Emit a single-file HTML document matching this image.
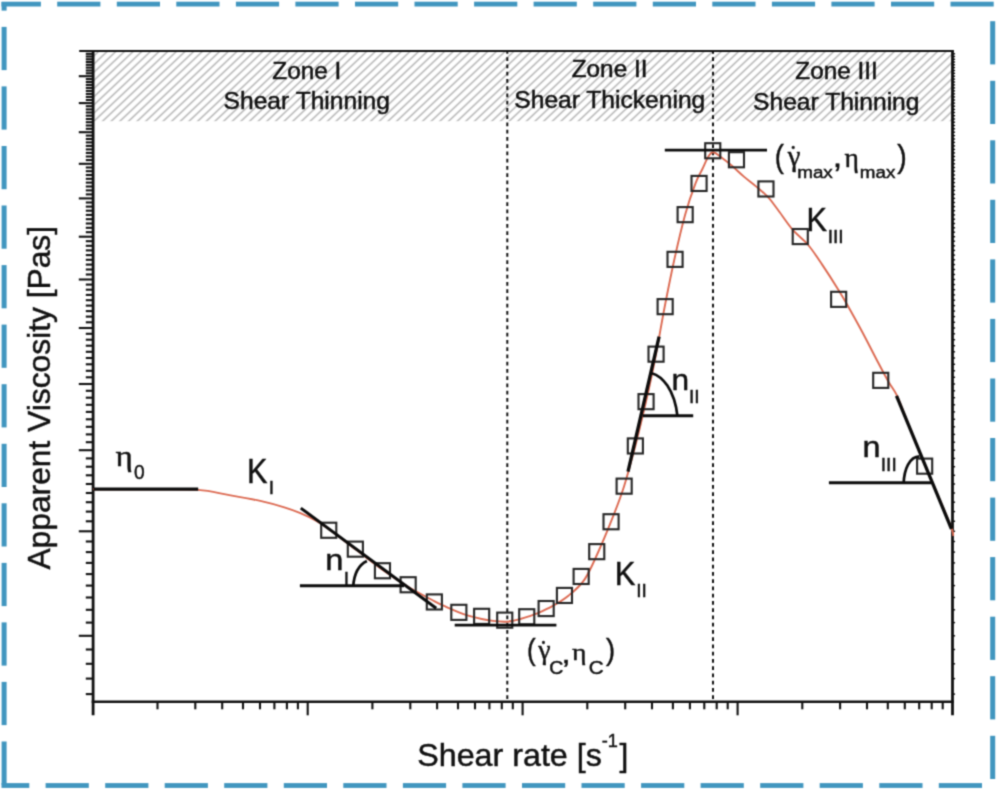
<!DOCTYPE html>
<html><head><meta charset="utf-8"><title>Apparent viscosity vs shear rate</title>
<style>html,body{margin:0;padding:0;background:#fff;}svg{display:block}</style></head>
<body><svg width="997" height="790" viewBox="0 0 997 790">
<filter id="soft" x="0" y="0" width="997" height="790" filterUnits="userSpaceOnUse" color-interpolation-filters="sRGB"><feConvolveMatrix order="3" kernelMatrix="0.0361 0.1178 0.0361 0.1178 0.3844 0.1178 0.0361 0.1178 0.0361" edgeMode="duplicate" preserveAlpha="false"/></filter>
<g filter="url(#soft)">
<rect width="997" height="790" fill="#fff"/>
<rect x="1.5" y="1.7" width="39.4" height="4.8" fill="#4196bf"/>
<rect x="57.2" y="1.7" width="43.2" height="4.8" fill="#4196bf"/>
<rect x="116.8" y="1.7" width="43.2" height="4.8" fill="#4196bf"/>
<rect x="176.3" y="1.7" width="43.2" height="4.8" fill="#4196bf"/>
<rect x="235.9" y="1.7" width="43.2" height="4.8" fill="#4196bf"/>
<rect x="295.4" y="1.7" width="43.2" height="4.8" fill="#4196bf"/>
<rect x="355.0" y="1.7" width="43.2" height="4.8" fill="#4196bf"/>
<rect x="414.5" y="1.7" width="43.2" height="4.8" fill="#4196bf"/>
<rect x="474.1" y="1.7" width="43.2" height="4.8" fill="#4196bf"/>
<rect x="533.6" y="1.7" width="43.2" height="4.8" fill="#4196bf"/>
<rect x="593.2" y="1.7" width="43.2" height="4.8" fill="#4196bf"/>
<rect x="652.8" y="1.7" width="43.2" height="4.8" fill="#4196bf"/>
<rect x="712.3" y="1.7" width="43.2" height="4.8" fill="#4196bf"/>
<rect x="771.9" y="1.7" width="43.2" height="4.8" fill="#4196bf"/>
<rect x="831.4" y="1.7" width="43.2" height="4.8" fill="#4196bf"/>
<rect x="891.0" y="1.7" width="43.2" height="4.8" fill="#4196bf"/>
<rect x="950.5" y="1.7" width="43.2" height="4.8" fill="#4196bf"/>
<rect x="1.5" y="783.1" width="27.8" height="4.8" fill="#4196bf"/>
<rect x="45.6" y="783.1" width="43.2" height="4.8" fill="#4196bf"/>
<rect x="105.2" y="783.1" width="43.2" height="4.8" fill="#4196bf"/>
<rect x="164.7" y="783.1" width="43.2" height="4.8" fill="#4196bf"/>
<rect x="224.2" y="783.1" width="43.2" height="4.8" fill="#4196bf"/>
<rect x="283.8" y="783.1" width="43.2" height="4.8" fill="#4196bf"/>
<rect x="343.3" y="783.1" width="43.2" height="4.8" fill="#4196bf"/>
<rect x="402.9" y="783.1" width="43.2" height="4.8" fill="#4196bf"/>
<rect x="462.4" y="783.1" width="43.2" height="4.8" fill="#4196bf"/>
<rect x="522.0" y="783.1" width="43.2" height="4.8" fill="#4196bf"/>
<rect x="581.5" y="783.1" width="43.2" height="4.8" fill="#4196bf"/>
<rect x="641.1" y="783.1" width="43.2" height="4.8" fill="#4196bf"/>
<rect x="700.6" y="783.1" width="43.2" height="4.8" fill="#4196bf"/>
<rect x="760.2" y="783.1" width="43.2" height="4.8" fill="#4196bf"/>
<rect x="819.7" y="783.1" width="43.2" height="4.8" fill="#4196bf"/>
<rect x="879.3" y="783.1" width="43.2" height="4.8" fill="#4196bf"/>
<rect x="938.8" y="783.1" width="43.2" height="4.8" fill="#4196bf"/>
<rect x="1.6" y="2.0" width="5.0" height="8.6" fill="#4196bf"/>
<rect x="1.6" y="26.9" width="5.0" height="43.2" fill="#4196bf"/>
<rect x="1.6" y="86.4" width="5.0" height="43.2" fill="#4196bf"/>
<rect x="1.6" y="146.0" width="5.0" height="43.2" fill="#4196bf"/>
<rect x="1.6" y="205.5" width="5.0" height="43.2" fill="#4196bf"/>
<rect x="1.6" y="265.1" width="5.0" height="43.2" fill="#4196bf"/>
<rect x="1.6" y="324.6" width="5.0" height="43.2" fill="#4196bf"/>
<rect x="1.6" y="384.2" width="5.0" height="43.2" fill="#4196bf"/>
<rect x="1.6" y="443.8" width="5.0" height="43.2" fill="#4196bf"/>
<rect x="1.6" y="503.3" width="5.0" height="43.2" fill="#4196bf"/>
<rect x="1.6" y="562.9" width="5.0" height="43.2" fill="#4196bf"/>
<rect x="1.6" y="622.4" width="5.0" height="43.2" fill="#4196bf"/>
<rect x="1.6" y="681.9" width="5.0" height="43.2" fill="#4196bf"/>
<rect x="1.6" y="741.5" width="5.0" height="43.2" fill="#4196bf"/>
<rect x="990.2" y="21.2" width="5.0" height="43.2" fill="#4196bf"/>
<rect x="990.2" y="80.8" width="5.0" height="43.2" fill="#4196bf"/>
<rect x="990.2" y="140.3" width="5.0" height="43.2" fill="#4196bf"/>
<rect x="990.2" y="199.8" width="5.0" height="43.2" fill="#4196bf"/>
<rect x="990.2" y="259.4" width="5.0" height="43.2" fill="#4196bf"/>
<rect x="990.2" y="318.9" width="5.0" height="43.2" fill="#4196bf"/>
<rect x="990.2" y="378.5" width="5.0" height="43.2" fill="#4196bf"/>
<rect x="990.2" y="438.0" width="5.0" height="43.2" fill="#4196bf"/>
<rect x="990.2" y="497.6" width="5.0" height="43.2" fill="#4196bf"/>
<rect x="990.2" y="557.1" width="5.0" height="43.2" fill="#4196bf"/>
<rect x="990.2" y="616.7" width="5.0" height="43.2" fill="#4196bf"/>
<rect x="990.2" y="676.2" width="5.0" height="43.2" fill="#4196bf"/>
<rect x="990.2" y="735.8" width="5.0" height="43.2" fill="#4196bf"/>
<linearGradient id="hg" gradientUnits="userSpaceOnUse" x1="100.560" y1="119.041" x2="104.640" y2="123.359" spreadMethod="repeat"><stop offset="0" stop-color="rgb(255,255,255)"/><stop offset="0.2" stop-color="rgb(255,255,255)"/><stop offset="0.29" stop-color="rgb(246,246,246)"/><stop offset="0.37" stop-color="rgb(222,222,222)"/><stop offset="0.44" stop-color="rgb(195,195,195)"/><stop offset="0.5" stop-color="rgb(182,182,182)"/><stop offset="0.56" stop-color="rgb(195,195,195)"/><stop offset="0.63" stop-color="rgb(222,222,222)"/><stop offset="0.71" stop-color="rgb(246,246,246)"/><stop offset="0.8" stop-color="rgb(255,255,255)"/><stop offset="1" stop-color="rgb(255,255,255)"/></linearGradient>
<rect x="92.8" y="51.0" width="859.7" height="70.2" fill="url(#hg)"/>
<line x1="507.3" y1="52.0" x2="507.3" y2="701.8" stroke="#111" stroke-width="2" stroke-dasharray="3.7 3.55" stroke-dashoffset="2"/>
<line x1="713.0" y1="52.0" x2="713.0" y2="701.8" stroke="#111" stroke-width="2" stroke-dasharray="3.7 3.55" stroke-dashoffset="2"/>
<g stroke="#111" stroke-width="2.2" fill="none">
<line x1="93.1" y1="50.0" x2="93.1" y2="715.3" stroke-width="2.8"/>
<line x1="91.7" y1="701.8" x2="953.9" y2="701.8" stroke-width="2.6"/>
<line x1="79.2" y1="50.9" x2="953.9" y2="50.9" stroke-width="2.0"/>
<line x1="952.5" y1="51.0" x2="952.5" y2="715.3" stroke-width="2.8"/>
</g>
<g stroke="#111" stroke-width="2.1">
<line x1="78.8" y1="635.8" x2="92.8" y2="635.8"/>
<line x1="85.8" y1="622.6" x2="92.8" y2="622.6"/>
<line x1="85.8" y1="609.8" x2="92.8" y2="609.8"/>
<line x1="85.8" y1="597.5" x2="92.8" y2="597.5"/>
<line x1="85.8" y1="585.6" x2="92.8" y2="585.6"/>
<line x1="85.8" y1="574.1" x2="92.8" y2="574.1"/>
<line x1="85.8" y1="562.9" x2="92.8" y2="562.9"/>
<line x1="85.8" y1="552.1" x2="92.8" y2="552.1"/>
<line x1="85.8" y1="541.5" x2="92.8" y2="541.5"/>
<line x1="78.8" y1="531.3" x2="92.8" y2="531.3"/>
<line x1="85.8" y1="521.3" x2="92.8" y2="521.3"/>
<line x1="85.8" y1="511.6" x2="92.8" y2="511.6"/>
<line x1="85.8" y1="502.2" x2="92.8" y2="502.2"/>
<line x1="85.8" y1="493.0" x2="92.8" y2="493.0"/>
<line x1="85.8" y1="484.0" x2="92.8" y2="484.0"/>
<line x1="85.8" y1="475.3" x2="92.8" y2="475.3"/>
<line x1="85.8" y1="466.7" x2="92.8" y2="466.7"/>
<line x1="85.8" y1="458.4" x2="92.8" y2="458.4"/>
<line x1="78.8" y1="450.2" x2="92.8" y2="450.2"/>
<line x1="85.8" y1="442.2" x2="92.8" y2="442.2"/>
<line x1="85.8" y1="434.4" x2="92.8" y2="434.4"/>
<line x1="85.8" y1="426.8" x2="92.8" y2="426.8"/>
<line x1="85.8" y1="419.3" x2="92.8" y2="419.3"/>
<line x1="85.8" y1="411.9" x2="92.8" y2="411.9"/>
<line x1="85.8" y1="404.8" x2="92.8" y2="404.8"/>
<line x1="85.8" y1="397.7" x2="92.8" y2="397.7"/>
<line x1="85.8" y1="390.8" x2="92.8" y2="390.8"/>
<line x1="78.8" y1="384.0" x2="92.8" y2="384.0"/>
<line x1="85.8" y1="377.3" x2="92.8" y2="377.3"/>
<line x1="85.8" y1="370.8" x2="92.8" y2="370.8"/>
<line x1="85.8" y1="364.3" x2="92.8" y2="364.3"/>
<line x1="85.8" y1="358.0" x2="92.8" y2="358.0"/>
<line x1="85.8" y1="351.8" x2="92.8" y2="351.8"/>
<line x1="85.8" y1="345.7" x2="92.8" y2="345.7"/>
<line x1="85.8" y1="339.7" x2="92.8" y2="339.7"/>
<line x1="85.8" y1="333.8" x2="92.8" y2="333.8"/>
<line x1="78.8" y1="328.0" x2="92.8" y2="328.0"/>
<line x1="85.8" y1="322.3" x2="92.8" y2="322.3"/>
<line x1="85.8" y1="316.6" x2="92.8" y2="316.6"/>
<line x1="85.8" y1="311.1" x2="92.8" y2="311.1"/>
<line x1="85.8" y1="305.6" x2="92.8" y2="305.6"/>
<line x1="85.8" y1="300.2" x2="92.8" y2="300.2"/>
<line x1="85.8" y1="294.9" x2="92.8" y2="294.9"/>
<line x1="85.8" y1="289.7" x2="92.8" y2="289.7"/>
<line x1="85.8" y1="284.6" x2="92.8" y2="284.6"/>
<line x1="78.8" y1="279.5" x2="92.8" y2="279.5"/>
<line x1="85.8" y1="274.5" x2="92.8" y2="274.5"/>
<line x1="85.8" y1="269.5" x2="92.8" y2="269.5"/>
<line x1="85.8" y1="264.6" x2="92.8" y2="264.6"/>
<line x1="85.8" y1="259.8" x2="92.8" y2="259.8"/>
<line x1="85.8" y1="255.1" x2="92.8" y2="255.1"/>
<line x1="85.8" y1="250.4" x2="92.8" y2="250.4"/>
<line x1="85.8" y1="245.8" x2="92.8" y2="245.8"/>
<line x1="85.8" y1="241.2" x2="92.8" y2="241.2"/>
<line x1="78.8" y1="236.7" x2="92.8" y2="236.7"/>
<line x1="85.8" y1="232.2" x2="92.8" y2="232.2"/>
<line x1="85.8" y1="227.8" x2="92.8" y2="227.8"/>
<line x1="85.8" y1="223.5" x2="92.8" y2="223.5"/>
<line x1="85.8" y1="219.2" x2="92.8" y2="219.2"/>
<line x1="85.8" y1="214.9" x2="92.8" y2="214.9"/>
<line x1="85.8" y1="210.7" x2="92.8" y2="210.7"/>
<line x1="85.8" y1="206.6" x2="92.8" y2="206.6"/>
<line x1="85.8" y1="202.5" x2="92.8" y2="202.5"/>
<line x1="78.8" y1="198.4" x2="92.8" y2="198.4"/>
<line x1="85.8" y1="194.4" x2="92.8" y2="194.4"/>
<line x1="85.8" y1="190.4" x2="92.8" y2="190.4"/>
<line x1="85.8" y1="186.5" x2="92.8" y2="186.5"/>
<line x1="85.8" y1="182.6" x2="92.8" y2="182.6"/>
<line x1="85.8" y1="178.8" x2="92.8" y2="178.8"/>
<line x1="85.8" y1="175.0" x2="92.8" y2="175.0"/>
<line x1="85.8" y1="171.2" x2="92.8" y2="171.2"/>
<line x1="85.8" y1="167.5" x2="92.8" y2="167.5"/>
<line x1="78.8" y1="163.8" x2="92.8" y2="163.8"/>
<line x1="85.8" y1="160.1" x2="92.8" y2="160.1"/>
<line x1="85.8" y1="156.5" x2="92.8" y2="156.5"/>
<line x1="85.8" y1="152.9" x2="92.8" y2="152.9"/>
<line x1="85.8" y1="149.4" x2="92.8" y2="149.4"/>
<line x1="85.8" y1="145.9" x2="92.8" y2="145.9"/>
<line x1="85.8" y1="142.4" x2="92.8" y2="142.4"/>
<line x1="85.8" y1="139.0" x2="92.8" y2="139.0"/>
<line x1="85.8" y1="135.6" x2="92.8" y2="135.6"/>
<line x1="78.8" y1="132.2" x2="92.8" y2="132.2"/>
<line x1="85.8" y1="128.8" x2="92.8" y2="128.8"/>
<line x1="85.8" y1="125.5" x2="92.8" y2="125.5"/>
<line x1="85.8" y1="122.2" x2="92.8" y2="122.2"/>
<line x1="85.8" y1="119.0" x2="92.8" y2="119.0"/>
<line x1="85.8" y1="115.7" x2="92.8" y2="115.7"/>
<line x1="85.8" y1="112.5" x2="92.8" y2="112.5"/>
<line x1="85.8" y1="109.4" x2="92.8" y2="109.4"/>
<line x1="85.8" y1="106.2" x2="92.8" y2="106.2"/>
<line x1="78.8" y1="103.1" x2="92.8" y2="103.1"/>
<line x1="85.8" y1="100.0" x2="92.8" y2="100.0"/>
<line x1="85.8" y1="96.9" x2="92.8" y2="96.9"/>
<line x1="85.8" y1="93.9" x2="92.8" y2="93.9"/>
<line x1="85.8" y1="90.9" x2="92.8" y2="90.9"/>
<line x1="85.8" y1="87.9" x2="92.8" y2="87.9"/>
<line x1="85.8" y1="84.9" x2="92.8" y2="84.9"/>
<line x1="85.8" y1="82.0" x2="92.8" y2="82.0"/>
<line x1="85.8" y1="79.1" x2="92.8" y2="79.1"/>
<line x1="78.8" y1="76.2" x2="92.8" y2="76.2"/>
<line x1="85.8" y1="73.3" x2="92.8" y2="73.3"/>
<line x1="85.8" y1="70.5" x2="92.8" y2="70.5"/>
<line x1="85.8" y1="67.6" x2="92.8" y2="67.6"/>
<line x1="85.8" y1="64.8" x2="92.8" y2="64.8"/>
<line x1="85.8" y1="62.0" x2="92.8" y2="62.0"/>
<line x1="85.8" y1="59.3" x2="92.8" y2="59.3"/>
<line x1="85.8" y1="56.5" x2="92.8" y2="56.5"/>
<line x1="85.8" y1="53.8" x2="92.8" y2="53.8"/>
<line x1="85.8" y1="649.5" x2="92.8" y2="649.5"/>
<line x1="85.8" y1="663.8" x2="92.8" y2="663.8"/>
<line x1="85.8" y1="678.6" x2="92.8" y2="678.6"/>
<line x1="85.8" y1="694.1" x2="92.8" y2="694.1"/>
<line x1="952.5" y1="694.1" x2="955.1" y2="694.1" stroke-width="1.4"/>
<line x1="952.5" y1="678.6" x2="955.1" y2="678.6" stroke-width="1.4"/>
<line x1="952.5" y1="663.8" x2="955.1" y2="663.8" stroke-width="1.4"/>
<line x1="952.5" y1="649.5" x2="955.1" y2="649.5" stroke-width="1.4"/>
<line x1="952.5" y1="635.8" x2="955.1" y2="635.8" stroke-width="1.4"/>
<line x1="952.5" y1="622.6" x2="955.1" y2="622.6" stroke-width="1.4"/>
<line x1="952.5" y1="609.8" x2="955.1" y2="609.8" stroke-width="1.4"/>
<line x1="952.5" y1="597.5" x2="955.1" y2="597.5" stroke-width="1.4"/>
<line x1="952.5" y1="585.6" x2="955.1" y2="585.6" stroke-width="1.4"/>
<line x1="952.5" y1="574.1" x2="955.1" y2="574.1" stroke-width="1.4"/>
<line x1="952.5" y1="562.9" x2="955.1" y2="562.9" stroke-width="1.4"/>
<line x1="952.5" y1="552.1" x2="955.1" y2="552.1" stroke-width="1.4"/>
<line x1="952.5" y1="541.5" x2="955.1" y2="541.5" stroke-width="1.4"/>
<line x1="952.5" y1="531.3" x2="955.1" y2="531.3" stroke-width="1.4"/>
<line x1="952.5" y1="521.3" x2="955.1" y2="521.3" stroke-width="1.4"/>
<line x1="952.5" y1="511.6" x2="955.1" y2="511.6" stroke-width="1.4"/>
<line x1="952.5" y1="502.2" x2="955.1" y2="502.2" stroke-width="1.4"/>
<line x1="952.5" y1="493.0" x2="955.1" y2="493.0" stroke-width="1.4"/>
<line x1="952.5" y1="484.0" x2="955.1" y2="484.0" stroke-width="1.4"/>
<line x1="952.5" y1="475.3" x2="955.1" y2="475.3" stroke-width="1.4"/>
<line x1="952.5" y1="466.7" x2="955.1" y2="466.7" stroke-width="1.4"/>
<line x1="952.5" y1="458.4" x2="955.1" y2="458.4" stroke-width="1.4"/>
<line x1="952.5" y1="450.2" x2="955.1" y2="450.2" stroke-width="1.4"/>
<line x1="952.5" y1="442.2" x2="955.1" y2="442.2" stroke-width="1.4"/>
<line x1="952.5" y1="434.4" x2="955.1" y2="434.4" stroke-width="1.4"/>
<line x1="952.5" y1="426.8" x2="955.1" y2="426.8" stroke-width="1.4"/>
<line x1="952.5" y1="419.3" x2="955.1" y2="419.3" stroke-width="1.4"/>
<line x1="952.5" y1="411.9" x2="955.1" y2="411.9" stroke-width="1.4"/>
<line x1="952.5" y1="404.8" x2="955.1" y2="404.8" stroke-width="1.4"/>
<line x1="952.5" y1="397.7" x2="955.1" y2="397.7" stroke-width="1.4"/>
<line x1="952.5" y1="390.8" x2="955.1" y2="390.8" stroke-width="1.4"/>
<line x1="952.5" y1="384.0" x2="955.1" y2="384.0" stroke-width="1.4"/>
<line x1="952.5" y1="377.3" x2="955.1" y2="377.3" stroke-width="1.4"/>
<line x1="952.5" y1="370.8" x2="955.1" y2="370.8" stroke-width="1.4"/>
<line x1="952.5" y1="364.3" x2="955.1" y2="364.3" stroke-width="1.4"/>
<line x1="952.5" y1="358.0" x2="955.1" y2="358.0" stroke-width="1.4"/>
<line x1="952.5" y1="351.8" x2="955.1" y2="351.8" stroke-width="1.4"/>
<line x1="952.5" y1="345.7" x2="955.1" y2="345.7" stroke-width="1.4"/>
<line x1="952.5" y1="339.7" x2="955.1" y2="339.7" stroke-width="1.4"/>
<line x1="952.5" y1="333.8" x2="955.1" y2="333.8" stroke-width="1.4"/>
<line x1="952.5" y1="328.0" x2="955.1" y2="328.0" stroke-width="1.4"/>
<line x1="952.5" y1="322.3" x2="955.1" y2="322.3" stroke-width="1.4"/>
<line x1="952.5" y1="316.6" x2="955.1" y2="316.6" stroke-width="1.4"/>
<line x1="952.5" y1="311.1" x2="955.1" y2="311.1" stroke-width="1.4"/>
<line x1="952.5" y1="305.6" x2="955.1" y2="305.6" stroke-width="1.4"/>
<line x1="952.5" y1="300.2" x2="955.1" y2="300.2" stroke-width="1.4"/>
<line x1="952.5" y1="294.9" x2="955.1" y2="294.9" stroke-width="1.4"/>
<line x1="952.5" y1="289.7" x2="955.1" y2="289.7" stroke-width="1.4"/>
<line x1="952.5" y1="284.6" x2="955.1" y2="284.6" stroke-width="1.4"/>
<line x1="952.5" y1="279.5" x2="955.1" y2="279.5" stroke-width="1.4"/>
<line x1="952.5" y1="274.5" x2="955.1" y2="274.5" stroke-width="1.4"/>
<line x1="952.5" y1="269.5" x2="955.1" y2="269.5" stroke-width="1.4"/>
<line x1="952.5" y1="264.6" x2="955.1" y2="264.6" stroke-width="1.4"/>
<line x1="952.5" y1="259.8" x2="955.1" y2="259.8" stroke-width="1.4"/>
<line x1="952.5" y1="255.1" x2="955.1" y2="255.1" stroke-width="1.4"/>
<line x1="952.5" y1="250.4" x2="955.1" y2="250.4" stroke-width="1.4"/>
<line x1="952.5" y1="245.8" x2="955.1" y2="245.8" stroke-width="1.4"/>
<line x1="952.5" y1="241.2" x2="955.1" y2="241.2" stroke-width="1.4"/>
<line x1="952.5" y1="236.7" x2="955.1" y2="236.7" stroke-width="1.4"/>
<line x1="952.5" y1="232.2" x2="955.1" y2="232.2" stroke-width="1.4"/>
<line x1="952.5" y1="227.8" x2="955.1" y2="227.8" stroke-width="1.4"/>
<line x1="952.5" y1="223.5" x2="955.1" y2="223.5" stroke-width="1.4"/>
<line x1="952.5" y1="219.2" x2="955.1" y2="219.2" stroke-width="1.4"/>
<line x1="952.5" y1="214.9" x2="955.1" y2="214.9" stroke-width="1.4"/>
<line x1="952.5" y1="210.7" x2="955.1" y2="210.7" stroke-width="1.4"/>
<line x1="952.5" y1="206.6" x2="955.1" y2="206.6" stroke-width="1.4"/>
<line x1="952.5" y1="202.5" x2="955.1" y2="202.5" stroke-width="1.4"/>
<line x1="952.5" y1="198.4" x2="955.1" y2="198.4" stroke-width="1.4"/>
<line x1="952.5" y1="194.4" x2="955.1" y2="194.4" stroke-width="1.4"/>
<line x1="952.5" y1="190.4" x2="955.1" y2="190.4" stroke-width="1.4"/>
<line x1="952.5" y1="186.5" x2="955.1" y2="186.5" stroke-width="1.4"/>
<line x1="952.5" y1="182.6" x2="955.1" y2="182.6" stroke-width="1.4"/>
<line x1="952.5" y1="178.8" x2="955.1" y2="178.8" stroke-width="1.4"/>
<line x1="952.5" y1="175.0" x2="955.1" y2="175.0" stroke-width="1.4"/>
<line x1="952.5" y1="171.2" x2="955.1" y2="171.2" stroke-width="1.4"/>
<line x1="952.5" y1="167.5" x2="955.1" y2="167.5" stroke-width="1.4"/>
<line x1="952.5" y1="163.8" x2="955.1" y2="163.8" stroke-width="1.4"/>
<line x1="952.5" y1="160.1" x2="955.1" y2="160.1" stroke-width="1.4"/>
<line x1="952.5" y1="156.5" x2="955.1" y2="156.5" stroke-width="1.4"/>
<line x1="952.5" y1="152.9" x2="955.1" y2="152.9" stroke-width="1.4"/>
<line x1="952.5" y1="149.4" x2="955.1" y2="149.4" stroke-width="1.4"/>
<line x1="952.5" y1="145.9" x2="955.1" y2="145.9" stroke-width="1.4"/>
<line x1="952.5" y1="142.4" x2="955.1" y2="142.4" stroke-width="1.4"/>
<line x1="952.5" y1="139.0" x2="955.1" y2="139.0" stroke-width="1.4"/>
<line x1="952.5" y1="135.6" x2="955.1" y2="135.6" stroke-width="1.4"/>
<line x1="952.5" y1="132.2" x2="955.1" y2="132.2" stroke-width="1.4"/>
<line x1="952.5" y1="128.8" x2="955.1" y2="128.8" stroke-width="1.4"/>
<line x1="952.5" y1="125.5" x2="955.1" y2="125.5" stroke-width="1.4"/>
<line x1="952.5" y1="122.2" x2="955.1" y2="122.2" stroke-width="1.4"/>
<line x1="952.5" y1="119.0" x2="955.1" y2="119.0" stroke-width="1.4"/>
<line x1="952.5" y1="115.7" x2="955.1" y2="115.7" stroke-width="1.4"/>
<line x1="952.5" y1="112.5" x2="955.1" y2="112.5" stroke-width="1.4"/>
<line x1="952.5" y1="109.4" x2="955.1" y2="109.4" stroke-width="1.4"/>
<line x1="952.5" y1="106.2" x2="955.1" y2="106.2" stroke-width="1.4"/>
<line x1="952.5" y1="103.1" x2="955.1" y2="103.1" stroke-width="1.4"/>
<line x1="952.5" y1="100.0" x2="955.1" y2="100.0" stroke-width="1.4"/>
<line x1="952.5" y1="96.9" x2="955.1" y2="96.9" stroke-width="1.4"/>
<line x1="952.5" y1="93.9" x2="955.1" y2="93.9" stroke-width="1.4"/>
<line x1="952.5" y1="90.9" x2="955.1" y2="90.9" stroke-width="1.4"/>
<line x1="952.5" y1="87.9" x2="955.1" y2="87.9" stroke-width="1.4"/>
<line x1="952.5" y1="84.9" x2="955.1" y2="84.9" stroke-width="1.4"/>
<line x1="952.5" y1="82.0" x2="955.1" y2="82.0" stroke-width="1.4"/>
<line x1="952.5" y1="79.1" x2="955.1" y2="79.1" stroke-width="1.4"/>
<line x1="952.5" y1="76.2" x2="955.1" y2="76.2" stroke-width="1.4"/>
<line x1="952.5" y1="73.3" x2="955.1" y2="73.3" stroke-width="1.4"/>
<line x1="952.5" y1="70.5" x2="955.1" y2="70.5" stroke-width="1.4"/>
<line x1="952.5" y1="67.6" x2="955.1" y2="67.6" stroke-width="1.4"/>
<line x1="952.5" y1="64.8" x2="955.1" y2="64.8" stroke-width="1.4"/>
<line x1="952.5" y1="62.0" x2="955.1" y2="62.0" stroke-width="1.4"/>
<line x1="952.5" y1="59.3" x2="955.1" y2="59.3" stroke-width="1.4"/>
<line x1="952.5" y1="56.5" x2="955.1" y2="56.5" stroke-width="1.4"/>
<line x1="952.5" y1="53.8" x2="955.1" y2="53.8" stroke-width="1.4"/>
<line x1="157.5" y1="701.8" x2="157.5" y2="709.3"/>
<line x1="195.3" y1="701.8" x2="195.3" y2="709.3"/>
<line x1="222.2" y1="701.8" x2="222.2" y2="709.3"/>
<line x1="243.0" y1="701.8" x2="243.0" y2="709.3"/>
<line x1="260.0" y1="701.8" x2="260.0" y2="709.3"/>
<line x1="274.4" y1="701.8" x2="274.4" y2="709.3"/>
<line x1="286.9" y1="701.8" x2="286.9" y2="709.3"/>
<line x1="297.9" y1="701.8" x2="297.9" y2="709.3"/>
<line x1="307.7" y1="701.8" x2="307.7" y2="715.3"/>
<line x1="372.4" y1="701.8" x2="372.4" y2="709.3"/>
<line x1="410.3" y1="701.8" x2="410.3" y2="709.3"/>
<line x1="437.1" y1="701.8" x2="437.1" y2="709.3"/>
<line x1="458.0" y1="701.8" x2="458.0" y2="709.3"/>
<line x1="475.0" y1="701.8" x2="475.0" y2="709.3"/>
<line x1="489.4" y1="701.8" x2="489.4" y2="709.3"/>
<line x1="501.8" y1="701.8" x2="501.8" y2="709.3"/>
<line x1="512.8" y1="701.8" x2="512.8" y2="709.3"/>
<line x1="522.6" y1="701.8" x2="522.6" y2="715.3"/>
<line x1="587.3" y1="701.8" x2="587.3" y2="709.3"/>
<line x1="625.2" y1="701.8" x2="625.2" y2="709.3"/>
<line x1="652.0" y1="701.8" x2="652.0" y2="709.3"/>
<line x1="672.9" y1="701.8" x2="672.9" y2="709.3"/>
<line x1="689.9" y1="701.8" x2="689.9" y2="709.3"/>
<line x1="704.3" y1="701.8" x2="704.3" y2="709.3"/>
<line x1="716.7" y1="701.8" x2="716.7" y2="709.3"/>
<line x1="727.7" y1="701.8" x2="727.7" y2="709.3"/>
<line x1="737.6" y1="701.8" x2="737.6" y2="715.3"/>
<line x1="802.3" y1="701.8" x2="802.3" y2="709.3"/>
<line x1="840.1" y1="701.8" x2="840.1" y2="709.3"/>
<line x1="867.0" y1="701.8" x2="867.0" y2="709.3"/>
<line x1="887.8" y1="701.8" x2="887.8" y2="709.3"/>
<line x1="904.8" y1="701.8" x2="904.8" y2="709.3"/>
<line x1="919.2" y1="701.8" x2="919.2" y2="709.3"/>
<line x1="931.7" y1="701.8" x2="931.7" y2="709.3"/>
<line x1="942.7" y1="701.8" x2="942.7" y2="709.3"/>
</g>
<path d="M93.0,489.2 C102.5,489.2 132.5,489.2 150.0,489.3 C167.5,489.4 185.0,489.0 198.0,489.9 C211.0,490.8 217.8,493.1 228.2,494.9 C238.6,496.7 251.0,498.8 260.3,500.9 C269.7,503.0 277.6,505.3 284.3,507.4 C291.0,509.4 295.0,511.0 300.4,513.2 C305.8,515.5 311.6,518.2 316.4,520.9 C321.2,523.6 322.5,524.6 329.0,529.3 C335.5,534.0 346.5,542.5 355.5,549.3 C364.5,556.1 374.0,563.7 382.8,570.0 C391.6,576.3 399.9,581.8 408.5,587.0 C417.1,592.2 428.4,598.0 434.6,601.3 C440.9,604.6 441.9,605.0 446.0,606.8 C450.1,608.6 454.9,610.7 458.9,612.3 C462.9,613.9 466.2,615.1 470.0,616.2 C473.8,617.3 477.9,618.2 481.7,619.0 C485.5,619.8 489.2,620.4 493.0,620.9 C496.8,621.4 501.0,621.7 504.2,621.7 C507.4,621.7 509.3,621.5 512.0,621.0 C514.7,620.5 517.6,619.7 520.3,619.0 C523.0,618.3 525.3,617.6 528.0,616.7 C530.7,615.8 532.2,615.5 536.3,613.7 C540.4,611.9 547.0,609.1 552.4,606.1 C557.8,603.1 563.0,600.1 568.4,595.7 C573.8,591.3 579.6,586.8 584.5,579.6 C589.4,572.4 593.6,562.1 598.0,552.5 C602.4,542.9 606.6,532.8 611.0,521.7 C615.4,510.7 620.1,498.8 624.1,486.2 C628.1,473.6 631.6,460.1 635.3,446.0 C638.9,431.9 642.5,416.9 646.0,401.6 C649.5,386.3 652.9,370.0 656.0,354.2 C659.1,338.4 661.6,322.5 664.7,306.7 C667.8,290.9 671.0,274.7 674.4,259.3 C677.8,243.9 681.7,227.2 685.2,214.5 C688.7,201.8 692.6,190.9 695.5,183.3 C698.4,175.7 700.3,173.4 702.4,169.0 C704.5,164.6 706.3,159.8 708.1,157.0 C709.9,154.2 710.9,152.3 713.0,152.3 C715.1,152.3 717.6,154.8 720.8,157.1 C724.0,159.4 728.3,162.8 732.2,166.1 C736.1,169.4 740.2,173.5 744.2,176.9 C748.2,180.3 752.3,183.2 756.3,186.6 C760.3,190.0 764.7,193.6 768.3,197.4 C771.9,201.2 773.6,204.1 777.7,209.5 C781.8,214.9 787.8,224.1 792.8,229.9 C797.8,235.7 802.9,238.8 807.8,244.5 C812.7,250.2 817.0,256.9 822.0,264.4 C827.0,271.8 833.9,282.6 838.0,289.2 C842.1,295.8 842.8,296.9 846.8,304.0 C850.8,311.1 856.8,321.8 862.0,331.5 C867.2,341.2 873.6,353.9 878.0,362.3 C882.4,370.7 885.4,376.4 888.6,382.0 C891.8,387.6 894.0,389.4 897.0,395.7 C900.0,402.0 902.1,408.2 906.8,420.0 C911.5,431.8 919.8,452.9 925.3,466.2 C930.8,479.5 935.6,489.6 940.0,500.0 C944.4,510.4 949.5,522.6 951.7,528.6 C953.9,534.6 953.0,534.8 953.2,536.0" fill="none" stroke="#dc6a52" stroke-width="1.9"/>
<g fill="none" stroke="#262626" stroke-width="2.1">
<rect x="321.2" y="522.7" width="15.1" height="15.1"/>
<rect x="347.8" y="541.6" width="15.1" height="15.1"/>
<rect x="374.9" y="563.2" width="15.1" height="15.1"/>
<rect x="400.6" y="577.2" width="15.1" height="15.1"/>
<rect x="426.8" y="594.4" width="15.1" height="15.1"/>
<rect x="451.3" y="604.8" width="15.1" height="15.1"/>
<rect x="474.1" y="608.8" width="15.1" height="15.1"/>
<rect x="497.2" y="612.6" width="15.1" height="15.1"/>
<rect x="519.2" y="609.2" width="15.1" height="15.1"/>
<rect x="538.6" y="601.0" width="15.1" height="15.1"/>
<rect x="556.9" y="587.9" width="15.1" height="15.1"/>
<rect x="573.6" y="568.9" width="15.1" height="15.1"/>
<rect x="589.2" y="544.1" width="15.1" height="15.1"/>
<rect x="603.5" y="514.2" width="15.1" height="15.1"/>
<rect x="616.6" y="478.6" width="15.1" height="15.1"/>
<rect x="627.8" y="438.4" width="15.1" height="15.1"/>
<rect x="638.5" y="394.1" width="15.1" height="15.1"/>
<rect x="648.5" y="346.6" width="15.1" height="15.1"/>
<rect x="657.6" y="299.1" width="15.1" height="15.1"/>
<rect x="667.5" y="251.8" width="15.1" height="15.1"/>
<rect x="677.6" y="207.1" width="15.1" height="15.1"/>
<rect x="691.5" y="175.9" width="15.1" height="15.1"/>
<rect x="705.2" y="143.2" width="15.1" height="15.1"/>
<rect x="728.9" y="152.2" width="15.1" height="15.1"/>
<rect x="758.4" y="181.4" width="15.1" height="15.1"/>
<rect x="792.7" y="229.0" width="15.1" height="15.1"/>
<rect x="831.1" y="291.8" width="15.1" height="15.1"/>
<rect x="873.2" y="372.8" width="15.1" height="15.1"/>
<rect x="917.1" y="458.6" width="15.1" height="15.1"/>
</g>
<g stroke="#0c0c0c" stroke-width="3.1" fill="none" stroke-linecap="butt">
<line x1="93.5" y1="489.1" x2="198.2" y2="489.1" stroke-width="3.1"/>
<line x1="300.8" y1="508.1" x2="436.2" y2="608.2" stroke-width="3.0"/>
<line x1="299.9" y1="585.7" x2="404" y2="585.7"/>
<path d="M353.2,586.5 Q354.5,567 366.9,561.0" stroke-width="2.7"/>
<line x1="454.7" y1="625.1" x2="556.4" y2="625.1" stroke-width="2.7"/>
<line x1="628.0" y1="471.6" x2="659.1" y2="336.6" stroke-width="3.3"/>
<line x1="642.5" y1="415.8" x2="693.2" y2="415.8"/>
<path d="M651.7,373.2 C662,376 674.5,389 677.5,416.5" stroke-width="2.7"/>
<line x1="664.8" y1="150.2" x2="767.0" y2="150.2" stroke-width="2.8"/>
<line x1="896.5" y1="395.9" x2="951.5" y2="529.0" stroke-width="3.3"/>
<line x1="828.9" y1="482.7" x2="931.6" y2="482.7"/>
<path d="M903.6,483.5 C904.2,469 909.5,456.6 919.5,456.3" stroke-width="2.7"/>
</g>
<text x="306.8" y="78.6" font-size="24.3" font-family="'Liberation Sans',sans-serif" fill="#111" stroke="#111" stroke-width="0.5" text-anchor="middle">Zone I</text>
<text x="306.8" y="109.4" font-size="24.6" font-family="'Liberation Sans',sans-serif" fill="#111" stroke="#111" stroke-width="0.5" text-anchor="middle">Shear Thinning</text>
<text x="609.6" y="76.6" font-size="24.3" font-family="'Liberation Sans',sans-serif" fill="#111" stroke="#111" stroke-width="0.5" text-anchor="middle">Zone II</text>
<text x="609.8" y="108.3" font-size="24.6" font-family="'Liberation Sans',sans-serif" fill="#111" stroke="#111" stroke-width="0.5" text-anchor="middle">Shear Thickening</text>
<text x="836.5" y="78.6" font-size="24.3" font-family="'Liberation Sans',sans-serif" fill="#111" stroke="#111" stroke-width="0.5" text-anchor="middle">Zone III</text>
<text x="836.3" y="109.8" font-size="24.6" font-family="'Liberation Sans',sans-serif" fill="#111" stroke="#111" stroke-width="0.5" text-anchor="middle">Shear Thinning</text>
<text transform="translate(417.2,765.5) scale(1.015,1)" font-size="31.8" font-family="'Liberation Sans',sans-serif" fill="#111" stroke="#111" stroke-width="0.45">Shear rate [s</text>
<text x="601.8" y="747.2" font-size="18.2" font-family="'Liberation Sans',sans-serif" fill="#111" stroke="#111" stroke-width="0.45">-1</text>
<text x="619.4" y="765.5" font-size="31.8" font-family="'Liberation Sans',sans-serif" fill="#111" stroke="#111" stroke-width="0.45">]</text>
<text transform="translate(50.1,569.6) rotate(-90) scale(1.025,1)" font-size="31.0" font-family="'Liberation Sans',sans-serif" fill="#111" stroke="#111" stroke-width="0.45">Apparent Viscosity [Pas]</text>
<text transform="translate(246.89,483.05) scale(0.894,1)" font-size="34.35" font-family="'Liberation Sans',sans-serif" fill="#111" stroke="#111" stroke-width="0.45">K</text>
<text transform="translate(268.71,494.47) scale(1.000,1)" font-size="19.20" font-family="'Liberation Sans',sans-serif" fill="#111" stroke="#111" stroke-width="0.45">I</text>
<text transform="translate(614.77,584.75) scale(0.932,1)" font-size="33.33" font-family="'Liberation Sans',sans-serif" fill="#111" stroke="#111" stroke-width="0.45">K</text>
<text transform="translate(636.22,596.77) scale(1.000,1)" font-size="19.20" font-family="'Liberation Sans',sans-serif" fill="#111" stroke="#111" stroke-width="0.45">II</text>
<text transform="translate(806.59,231.05) scale(0.946,1)" font-size="32.46" font-family="'Liberation Sans',sans-serif" fill="#111" stroke="#111" stroke-width="0.45">K</text>
<text transform="translate(827.68,243.47) scale(1.000,1)" font-size="19.20" font-family="'Liberation Sans',sans-serif" fill="#111" stroke="#111" stroke-width="0.45">III</text>
<text transform="translate(325.17,570.45) scale(1.094,1)" font-size="29.81" font-family="'Liberation Sans',sans-serif" fill="#111" stroke="#111" stroke-width="0.45">n</text>
<text transform="translate(343.81,585.37) scale(1.000,1)" font-size="19.20" font-family="'Liberation Sans',sans-serif" fill="#111" stroke="#111" stroke-width="0.45">I</text>
<text transform="translate(671.43,390.45) scale(1.062,1)" font-size="29.81" font-family="'Liberation Sans',sans-serif" fill="#111" stroke="#111" stroke-width="0.45">n</text>
<text transform="translate(688.97,402.62) scale(1.000,1)" font-size="19.20" font-family="'Liberation Sans',sans-serif" fill="#111" stroke="#111" stroke-width="0.45">II</text>
<text transform="translate(862.38,456.55) scale(1.128,1)" font-size="28.70" font-family="'Liberation Sans',sans-serif" fill="#111" stroke="#111" stroke-width="0.45">n</text>
<text transform="translate(880.78,471.42) scale(1.000,1)" font-size="19.20" font-family="'Liberation Sans',sans-serif" fill="#111" stroke="#111" stroke-width="0.45">III</text>
<text transform="translate(115.59,466.45) scale(1.104,1)" font-size="30.00" font-family="'Liberation Serif',serif" fill="#111" stroke="#111" stroke-width="0.45">η</text>
<text transform="translate(133.88,479.15) scale(0.965,1)" font-size="19.86" font-family="'Liberation Sans',sans-serif" fill="#111" stroke="#111" stroke-width="0.45">0</text>
<text transform="translate(774.71,167.09) scale(0.861,1)" font-size="31.70" font-family="'Liberation Sans',sans-serif" fill="#111" stroke="#111" stroke-width="0.45">(</text>
<text transform="translate(787.65,166.10) scale(1.000,1)" font-size="28.81" font-family="'Liberation Serif',serif" fill="#111" stroke="#111" stroke-width="0.45">γ</text>
<text transform="translate(788.95,163.90) scale(0.926,1)" font-size="27.00" font-family="'Liberation Serif',serif" fill="#111" stroke="#111" stroke-width="0.45">˙</text>
<text transform="translate(797.23,177.88) scale(1.126,1)" font-size="16.73" font-family="'Liberation Sans',sans-serif" fill="#111" stroke="#111" stroke-width="0.45">max</text>
<text transform="translate(832.69,167.20) scale(1.118,1)" font-size="30.42" font-family="'Liberation Sans',sans-serif" fill="#111" stroke="#111" stroke-width="0.45">,</text>
<text transform="translate(844.60,167.21) scale(1.007,1)" font-size="27.35" font-family="'Liberation Serif',serif" fill="#111" stroke="#111" stroke-width="0.45">η</text>
<text transform="translate(859.83,177.88) scale(1.126,1)" font-size="16.73" font-family="'Liberation Sans',sans-serif" fill="#111" stroke="#111" stroke-width="0.45">max</text>
<text transform="translate(897.27,167.09) scale(0.898,1)" font-size="31.70" font-family="'Liberation Sans',sans-serif" fill="#111" stroke="#111" stroke-width="0.45">)</text>
<text transform="translate(526.94,659.56) scale(0.850,1)" font-size="30.43" font-family="'Liberation Sans',sans-serif" fill="#111" stroke="#111" stroke-width="0.45">(</text>
<text transform="translate(538.35,658.91) scale(1.020,1)" font-size="27.31" font-family="'Liberation Serif',serif" fill="#111" stroke="#111" stroke-width="0.45">γ</text>
<text transform="translate(539.15,658.90) scale(0.926,1)" font-size="27.00" font-family="'Liberation Serif',serif" fill="#111" stroke="#111" stroke-width="0.45">˙</text>
<text transform="translate(549.17,673.56) scale(1.019,1)" font-size="19.15" font-family="'Liberation Sans',sans-serif" fill="#111" stroke="#111" stroke-width="0.45">C</text>
<text transform="translate(561.44,663.47) scale(1.150,1)" font-size="28.33" font-family="'Liberation Sans',sans-serif" fill="#111" stroke="#111" stroke-width="0.45">,</text>
<text transform="translate(572.05,659.62) scale(1.150,1)" font-size="23.97" font-family="'Liberation Serif',serif" fill="#111" stroke="#111" stroke-width="0.45">η</text>
<text transform="translate(588.82,673.56) scale(1.077,1)" font-size="19.15" font-family="'Liberation Sans',sans-serif" fill="#111" stroke="#111" stroke-width="0.45">C</text>
<text transform="translate(605.88,659.56) scale(0.898,1)" font-size="30.43" font-family="'Liberation Sans',sans-serif" fill="#111" stroke="#111" stroke-width="0.45">)</text>
</g></svg></body></html>
